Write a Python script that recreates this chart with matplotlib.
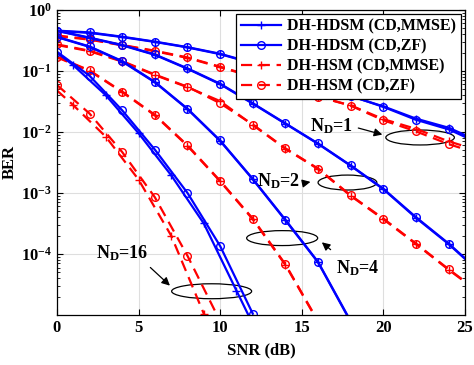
import numpy as np
import matplotlib
matplotlib.use("Agg")
import matplotlib.pyplot as plt
from matplotlib.patches import Ellipse

# ---- data (SNR in dB, BER) ----
snr_even = [0, 2, 4, 6, 8, 10, 12, 14, 16, 18, 20, 22, 24, 25]

# N_D = 1
ber_hdsm_zf_1 = [0.457, 0.427, 0.363, 0.302, 0.245, 0.191, 0.135, 0.0933, 0.0617, 0.0389, 0.0257, 0.0158, 0.0110, 0.0083]
ber_hdsm_mmse_1 = [0.450, 0.420, 0.358, 0.298, 0.242, 0.188, 0.133, 0.0920, 0.0605, 0.0385, 0.0262, 0.0165, 0.0117, 0.0089]
ber_hsm_zf_1 = [0.380, 0.331, 0.266, 0.214, 0.166, 0.117, 0.0813, 0.0550, 0.0380, 0.0269, 0.0155, 0.0102, 0.0063, 0.0052]
ber_hsm_mmse_1 = [0.372, 0.325, 0.262, 0.210, 0.163, 0.115, 0.0800, 0.0545, 0.0378, 0.0272, 0.0162, 0.0112, 0.0070, 0.0058]

# N_D = 2
ber_hdsm_zf_2 = [0.457, 0.351, 0.266, 0.186, 0.110, 0.0617, 0.0295, 0.0138, 0.00646, 0.00282, 0.00117, 0.00040, 0.000148, 0.0000851]
ber_hdsm_mmse_2 = [0.452, 0.346, 0.262, 0.183, 0.108, 0.0605, 0.0290, 0.0136, 0.00636, 0.00278, 0.00115, 0.00039, 0.000145, 0.0000830]
ber_hsm_zf_2 = [0.272, 0.214, 0.145, 0.0871, 0.0550, 0.0295, 0.0132, 0.00537, 0.00251, 0.000912, 0.00038, 0.000148, 0.0000562, 0.0000355]
ber_hsm_mmse_2 = [0.266, 0.210, 0.142, 0.0855, 0.0540, 0.0320, 0.0130, 0.00528, 0.00246, 0.000895, 0.00037, 0.000145, 0.0000550, 0.0000348]

# N_D = 4
snr_4_hdsm = [0, 2, 4, 6, 8, 10, 12, 14, 16, 18]
ber_hdsm_zf_4 = [0.363, 0.251, 0.145, 0.0661, 0.0240, 0.00724, 0.00170, 0.000363, 0.0000741, 0.0000079]
ber_hdsm_mmse_4 = [0.358, 0.247, 0.142, 0.0650, 0.0236, 0.00712, 0.00167, 0.000356, 0.0000727, 0.0000077]
snr_4_hsm = [0, 2, 4, 6, 8, 10, 12, 14, 16]
ber_hsm_zf_4 = [0.170, 0.102, 0.0457, 0.0191, 0.00603, 0.00158, 0.00038, 0.0000676, 0.0000079]
ber_hsm_mmse_4 = [0.167, 0.100, 0.0449, 0.0187, 0.00590, 0.00155, 0.00037, 0.0000660, 0.0000077]

# N_D = 16 (ZF markers on even SNR, MMSE markers on odd SNR)
snr_16_hdsm_zf = [0, 2, 4, 6, 8, 10, 12]
ber_hdsm_zf_16 = [0.2065, 0.0832, 0.0226, 0.00513, 0.00100, 0.000135, 0.0000105]
snr_16_hdsm_mmse = [0, 1, 3, 5, 7, 9, 11, 12]
ber_hdsm_mmse_16 = [0.200, 0.124, 0.0398, 0.00955, 0.00195, 0.000316, 0.0000251, 0.0000071]
snr_16_hsm_zf = [0, 2, 4, 6, 8, 10]
ber_hsm_zf_16 = [0.0589, 0.0200, 0.00468, 0.000851, 0.0000933, 0.0000079]
snr_16_hsm_mmse = [0, 1, 3, 5, 7, 9, 10]
ber_hsm_mmse_16 = [0.0479, 0.0275, 0.00832, 0.00166, 0.000200, 0.0000105, 0.0000025]

legend_labels = ["DH-HDSM (CD,MMSE)", "DH-HDSM (CD,ZF)", "DH-HSM (CD,MMSE)", "DH-HSM (CD,ZF)"]
x_ticks = [0, 5, 10, 15, 20, 25]
y_ticks = [1e0, 1e-1, 1e-2, 1e-3, 1e-4]
y_tick_labels = [r"$\mathbf{10^{0}}$", r"$\mathbf{10^{-1}}$", r"$\mathbf{10^{-2}}$",
                 r"$\mathbf{10^{-3}}$", r"$\mathbf{10^{-4}}$"]

# annotations: label, text pos, arrow start, arrow end, ellipse centre (snr, ber)
notes = [
    ("1", (16.8, 0.0124), (18.3, 0.0119), (20.1, 0.0088), (22.25, 0.0081)),
    ("2", (13.6, 0.00155), (14.95, 0.00141), (15.7, 0.00155), (17.8, 0.00148)),
    ("4", (18.45, 0.000059), (16.9, 0.00011), (16.1, 0.000166), (13.8, 0.000182)),
    ("16", (4.0, 0.000105), (5.6, 0.0000645), (7.05, 0.0000282), (9.48, 0.0000245)),
]
ellipse_w = [4.2, 3.6, 4.35, 4.9]  # dB

plt.rcParams["font.family"] = "Liberation Serif"
plt.rcParams["font.weight"] = "bold"
plt.rcParams["font.size"] = 12
plt.rcParams["mathtext.fontset"] = "custom"
plt.rcParams["mathtext.rm"] = "Liberation Serif:bold"
plt.rcParams["mathtext.bf"] = "Liberation Serif:bold"
plt.rcParams["mathtext.it"] = "Liberation Serif:bold"

fig = plt.figure(figsize=(4.74, 3.65), dpi=100)
ax = fig.add_axes([0.120, 0.137, 0.861, 0.836])

blue, red = (0, 0, 1), (1, 0, 0)
dash = (0, (5, 3))
mk = dict(markersize=5.5, markerfacecolor="none", markeredgewidth=1.0)

def curve(x, y, color, ls, marker, every, label=None):
    return ax.plot(x, y, color=color, ls=ls, lw=1.6, marker=marker,
                   markevery=every, label=label, **mk)[0]

first13 = list(range(13))
handles = []
for k, (hm, hz, rm, rz) in enumerate([
        (ber_hdsm_mmse_1, ber_hdsm_zf_1, ber_hsm_mmse_1, ber_hsm_zf_1),
        (ber_hdsm_mmse_2, ber_hdsm_zf_2, ber_hsm_mmse_2, ber_hsm_zf_2)]):
    h1 = curve(snr_even, hm, blue, "-", "+", first13)
    h2 = curve(snr_even, hz, blue, "-", "o", first13)
    h3 = curve(snr_even, rm, red, dash, "+", first13)
    h4 = curve(snr_even, rz, red, dash, "o", first13)
    if k == 0:
        handles = [h1, h2, h3, h4]

curve(snr_4_hdsm, ber_hdsm_mmse_4, blue, "-", "+", None)
curve(snr_4_hdsm, ber_hdsm_zf_4, blue, "-", "o", None)
curve(snr_4_hsm, ber_hsm_mmse_4, red, dash, "+", None)
curve(snr_4_hsm, ber_hsm_zf_4, red, dash, "o", None)

curve(snr_16_hdsm_mmse, ber_hdsm_mmse_16, blue, "-", "+", list(range(1, 7)))
curve(snr_16_hdsm_zf, ber_hdsm_zf_16, blue, "-", "o", None)
curve(snr_16_hsm_mmse, ber_hsm_mmse_16, red, dash, "+", list(range(1, 6)))
curve(snr_16_hsm_zf, ber_hsm_zf_16, red, dash, "o", None)

ax.set_yscale("log")
ax.set_xlim(0, 25)
ax.set_ylim(1e-5, 1)
ax.set_xticks(x_ticks)
ax.set_xticklabels([str(t) for t in x_ticks])
ax.set_yticks(y_ticks)
ax.set_yticklabels(y_tick_labels)
ax.yaxis.set_minor_locator(matplotlib.ticker.LogLocator(base=10, subs=np.arange(2, 10)))
ax.yaxis.set_minor_formatter(matplotlib.ticker.NullFormatter())
ax.tick_params(which="both", direction="in", top=True, right=True)
ax.tick_params(which="major", length=4, labelsize=12)
ax.tick_params(which="minor", length=2.5)
ax.grid(True, which="major", color="#dedede", lw=0.8)
ax.set_axisbelow(True)
for s in ax.spines.values():
    s.set_linewidth(0.9)
ax.set_xlabel("SNR (dB)", fontsize=12, fontweight="bold", labelpad=5)
ax.set_ylabel("BER", fontsize=12, fontweight="bold", labelpad=2)

def to_axes(x, y):
    return x / 25.0, (np.log10(y) + 5) / 5.0

for (lab, tpos, a0, a1, ecen), w in zip(notes, ellipse_w):
    ax.text(tpos[0], tpos[1], r"N$_{\mathrm{D}}$=" + lab, ha="center", va="center", fontsize=13)
    ax.annotate("", xy=a1, xytext=a0,
                arrowprops=dict(arrowstyle="-|>", color="black", lw=0.9, mutation_scale=12))
    cx, cy = to_axes(*ecen)
    ax.add_patch(Ellipse((cx, cy), w / 25.0, 0.049, transform=ax.transAxes,
                         fill=False, ec="black", lw=0.9))

leg = ax.legend(handles, legend_labels, loc="upper right", fontsize=11.5,
                borderaxespad=0.25, handlelength=2.5, fancybox=False,
                edgecolor="black", framealpha=1, labelspacing=0.25,
                borderpad=0.3, handletextpad=0.4)
leg.get_frame().set_linewidth(0.9)

fig.savefig("out.png", dpi=100)
